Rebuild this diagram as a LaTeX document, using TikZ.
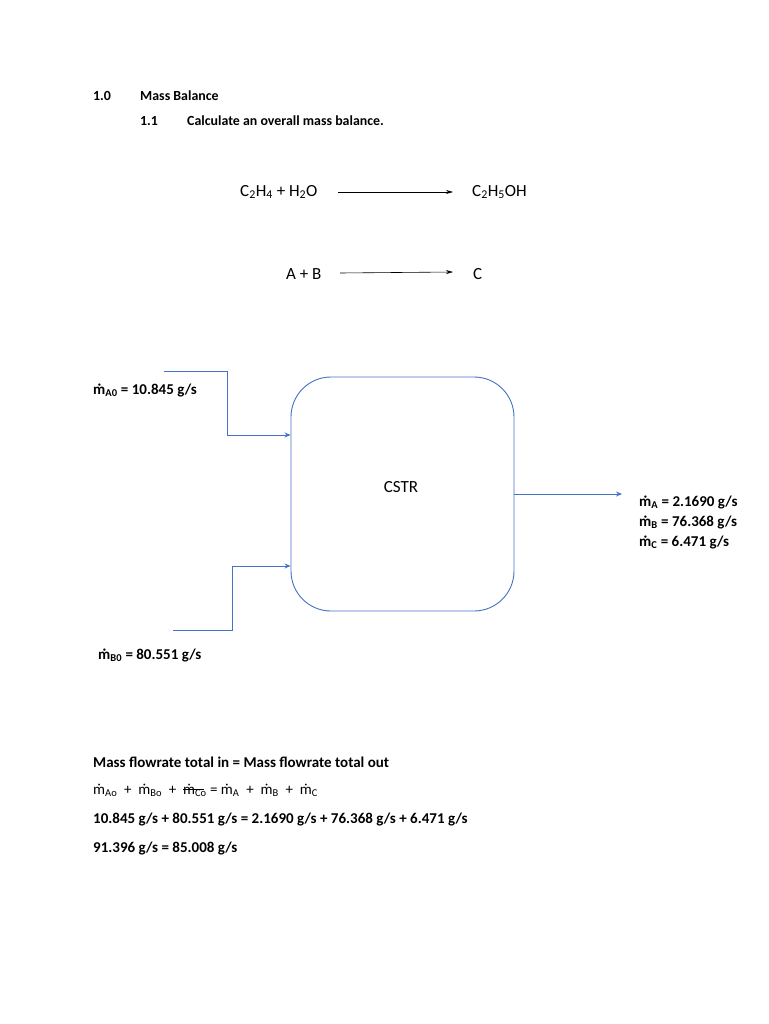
\documentclass[tikz,border=0pt]{standalone}
\usepackage{fontspec}
\setmainfont{Carlito}
\usetikzlibrary{arrows.meta}
\definecolor{blu}{RGB}{68,114,196}
\newcommand{\md}{ṁ}
\newcommand{\sbs}[1]{\textsubscript{#1}}
\begin{document}
\begin{tikzpicture}[x=1pt,y=-1pt,
 hd/.style={anchor=west,inner sep=0pt,font=\fontsize{13.9}{16}\selectfont\bfseries},
 txt/.style={anchor=west,inner sep=0pt,font=\fontsize{15}{17}\selectfont\bfseries},
 rx/.style={anchor=west,inner sep=0pt,font=\fontsize{17}{19}\selectfont},
 flow/.style={draw=blu,line width=0.9pt,-{Stealth[length=6pt,width=5pt]}},
 rarr/.style={draw=black,line width=0.6pt,-{Stealth[length=7pt,width=4pt]}}]
\useasboundingbox[fill=white] (0,0) rectangle (768,1024);
\node[hd] (h1) at (93,96) {1.0};
\node[hd] (h1t) at (140,96) {Mass Balance};
\node[hd] (h2) at (140,121) {1.1};
\node[hd] (h2t) at (187,121) {Calculate an overall mass balance.};
\node[rx] (r1) at (240,192) {C\sbs{2}H\sbs{4} + H\sbs{2}O};
\node[rx] (p1) at (472,192) {C\sbs{2}H\sbs{5}OH};
\coordinate (a1s) at (338,192); \coordinate (a1e) at (453,192);
\draw[rarr] (a1s) -- (a1e);
\node[rx] (r2) at (286,274) {A + B};
\node[rx] (p2) at (473,274) {C};
\coordinate (a2s) at (340,273); \coordinate (a2e) at (453,272);
\draw[rarr] (a2s) -- (a2e);
\node[draw=blu,line width=0.9pt,rounded corners=40pt,minimum width=223pt,minimum height=234pt] (cstr) at (402.5,494) {};
\node[rx,anchor=center] (cl) at (401,487) {CSTR};
\coordinate (ia) at (164,371); \coordinate (ia1) at (227,371); \coordinate (ia2) at (227,435);
\draw[flow] (ia) -- (ia1) -- (ia2) -- (cstr.west |- ia2);
\coordinate (ib) at (173,630); \coordinate (ib1) at (232,630); \coordinate (ib2) at (232,566);
\draw[flow] (ib) -- (ib1) -- (ib2) -- (cstr.west |- ib2);
\coordinate (oe) at (622,494);
\draw[flow] (cstr.east |- oe) -- (oe);
\node[txt] (la) at (93,390) {\md\sbs{A0} = 10.845 g/s};
\node[txt] (lb) at (98,655) {\md\sbs{B0} = 80.551 g/s};
\node[txt] (oa) at (639,502) {\md\sbs{A} = 2.1690 g/s};
\node[txt] (ob) at (639,522) {\md\sbs{B} = 76.368 g/s};
\node[txt] (oc) at (639,542) {\md\sbs{C} = 6.471 g/s};
\node[txt] (e1) at (93,762) {Mass flowrate total in = Mass flowrate total out};
\node[txt,font=\fontsize{15}{17}\selectfont] (e2) at (93,790) {\md\sbs{Ao} \ + \ \md\sbs{Bo} \ + \ \rlap{\rule[0.3em]{1.4em}{0.6pt}}\md\sbs{Co} = \md\sbs{A} \ + \ \md\sbs{B} \ + \ \md\sbs{C}};
\node[txt] (e3) at (93,819) {10.845 g/s + 80.551 g/s = 2.1690 g/s + 76.368 g/s + 6.471 g/s};
\node[txt] (e4) at (93,848) {91.396 g/s = 85.008 g/s};
\end{tikzpicture}
\end{document}
